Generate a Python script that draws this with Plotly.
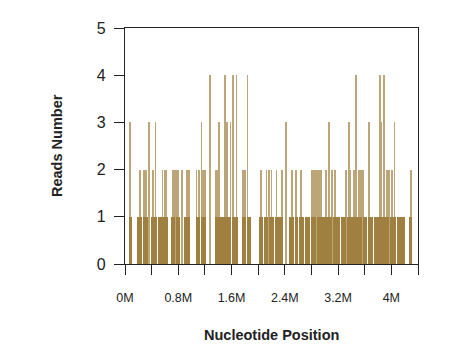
import plotly.graph_objects as go

# Level-1 coverage blocks (start, end) in Mb
base_start = [0.060, 0.180, 0.266, 0.386, 0.496, 0.547, 0.687, 0.760, 0.883, 1.059,
              1.140, 1.349, 1.474, 1.600, 1.750, 1.830, 2.006, 2.086, 2.161, 2.251,
              2.331, 2.466, 2.547, 2.612, 2.705, 2.788, 2.880, 2.962, 3.123, 3.239,
              3.329, 3.414, 3.489, 3.570, 3.650, 3.740, 3.820, 3.910, 3.980, 4.080,
              4.161, 4.271]
base_end = [0.111, 0.256, 0.346, 0.481, 0.537, 0.647, 0.750, 0.823, 0.983, 1.130,
            1.214, 1.465, 1.589, 1.690, 1.820, 1.886, 2.075, 2.150, 2.241, 2.326,
            2.376, 2.537, 2.602, 2.695, 2.777, 2.870, 2.953, 3.113, 3.229, 3.319,
            3.405, 3.480, 3.560, 3.639, 3.720, 3.811, 3.900, 3.970, 4.070, 4.156,
            4.206, 4.316]

# Taller spikes: position (Mb) and reads number
spike_pos = [0.221, 0.286, 0.311, 0.422, 0.562, 0.597, 0.622, 0.722, 0.747, 0.782,
             0.802, 0.853, 0.933, 0.963, 1.073, 1.108, 1.174, 1.199, 1.364, 1.399,
             1.775, 1.805, 2.045, 2.126, 2.161, 2.201, 2.276, 2.356, 2.502, 2.562,
             2.642, 2.807, 2.833, 2.863, 2.888, 2.913, 2.938, 3.013, 3.113, 3.153,
             3.314, 3.379, 3.444, 3.514, 3.534, 3.554, 3.580, 3.940, 3.970, 4.006,
             4.296,
             0.071, 0.356, 0.457, 1.148, 1.409, 1.519, 1.539, 1.584, 2.416, 3.058,
             3.359, 3.670, 3.845, 4.046,
             1.274, 1.504, 1.620, 1.675, 1.840, 3.464, 3.830, 3.895]
spike_h = [2] * 51 + [3] * 14 + [4] * 8

tick_vals = [0, 0.4, 0.8, 1.2, 1.6, 2.0, 2.4, 2.8, 3.2, 3.6, 4.0, 4.4]
tick_text = ["0M", "", "0.8M", "", "1.6M", "", "2.4M", "", "3.2M", "", "4M", ""]

base_mid = [(s + e) / 2 for s, e in zip(base_start, base_end)]
base_w = [e - s for s, e in zip(base_start, base_end)]

fig = go.Figure()
fig.add_trace(go.Bar(x=spike_pos, y=spike_h, width=0.012,
                     marker=dict(color="#BCA678", line=dict(width=0)),
                     showlegend=False))
fig.add_trace(go.Bar(x=base_mid, y=[1] * len(base_mid), width=base_w,
                     marker=dict(color="#9F8040", line=dict(width=0)),
                     showlegend=False))

axis_common = dict(showline=True, linecolor="#222222", linewidth=1.3, mirror=True,
                   ticks="outside", ticklen=10, tickcolor="#222222", tickwidth=1.3,
                   showgrid=False, zeroline=False)

fig.update_layout(
    width=466, height=353,
    margin=dict(l=117, r=56, t=12, b=97),
    paper_bgcolor="white", plot_bgcolor="white",
    barmode="overlay", bargap=0,
    font=dict(family="Liberation Sans, Arial, sans-serif", color="#222222"),
    xaxis=dict(range=[0, 4.4], tickvals=tick_vals, ticktext=tick_text,
               tickfont=dict(size=12.5), ticklabelstandoff=12, **axis_common),
    yaxis=dict(range=[0, 5], tickvals=[0, 1, 2, 3, 4, 5],
               tickfont=dict(size=16), ticklabelstandoff=5, **axis_common),
    annotations=[
        dict(text="<b>Nucleotide Position</b>", x=0.5, y=0, xref="paper", yref="paper",
             xanchor="center", yanchor="middle", yshift=-71, showarrow=False,
             font=dict(size=14.5)),
        dict(text="<b>Reads Number</b>", x=0, y=0.5, xref="paper", yref="paper",
             xanchor="center", yanchor="middle", xshift=-68, textangle=-90,
             showarrow=False, font=dict(size=14.5)),
    ],
)

fig.write_html("out.html")
